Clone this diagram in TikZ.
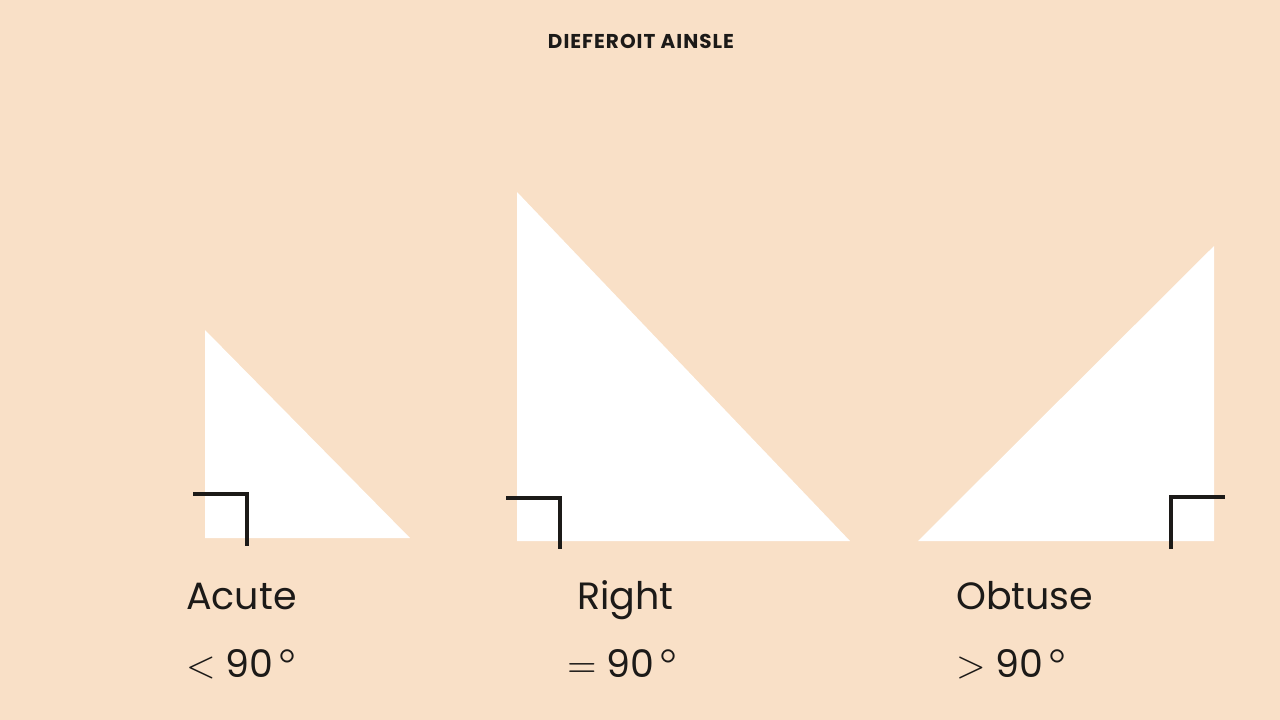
\documentclass[tikz,border=0pt]{standalone}
\usepackage{fontspec}
\setmainfont{Poppins}
\newfontfamily\lmr{lmroman10-regular.otf}
\definecolor{bg}{HTML}{F9E0C7}
\definecolor{ink}{HTML}{1C1A18}
\newcommand{\degsign}{\hspace{5pt}{\lmr\fontsize{48}{48}\selectfont\raisebox{-0.12em}{°}}}
\begin{document}
\begin{tikzpicture}[x=1pt,y=-1pt,
  tri/.style={fill=white,draw=none},
  cornermark/.style={draw=ink,line width=3.2pt,line cap=butt},
  lbl/.style={anchor=base west,inner sep=0pt,text=ink,font=\fontsize{38}{44}\selectfont}]
\fill[bg] (0,0) rectangle (1280,720);
\useasboundingbox (0,0) rectangle (1280,720);
\node[anchor=base,inner sep=0pt,text=ink,font=\fontsize{20}{24}\selectfont\addfontfeature{LetterSpace=5}\bfseries] (title) at (641,48) {DIEFEROIT AINSLE};
% acute
\coordinate (a1) at (205,330); \coordinate (a2) at (205,538); \coordinate (a3) at (410,538);
\fill[tri] (a1) -- (a2) -- (a3) -- cycle;
\coordinate (am1) at (193,494); \coordinate (am2) at (247,494); \coordinate (am3) at (247,546);
\draw[cornermark] (am1) -- (am2) -- (am3);
% right
\coordinate (r1) at (517,192); \coordinate (r2) at (517,541); \coordinate (r3) at (850,541);
\fill[tri] (r1) -- (r2) -- (r3) -- cycle;
\coordinate (rm1) at (506,498); \coordinate (rm2) at (560,498); \coordinate (rm3) at (560,549);
\draw[cornermark] (rm1) -- (rm2) -- (rm3);
% obtuse
\coordinate (o1) at (918,541); \coordinate (o2) at (1214,246); \coordinate (o3) at (1214,541);
\fill[tri] (o1) -- (o2) -- (o3) -- cycle;
\coordinate (om1) at (1171,549); \coordinate (om2) at (1171,497); \coordinate (om3) at (1225,497);
\draw[cornermark] (om1) -- (om2) -- (om3);
% labels
\node[lbl] (acute) at (186,609) {Acute};
\node[lbl] (acuteval) at (186,677) {{\lmr<} 90\degsign};
\node[lbl] (right) at (577,609) {Right};
\node[lbl] (rightval) at (567,677) {{\lmr=} 90\degsign};
\node[lbl] (obtuse) at (956,609) {Obtuse};
\node[lbl] (obtuseval) at (956,677) {{\lmr>} 90\degsign};
\end{tikzpicture}
\end{document}
